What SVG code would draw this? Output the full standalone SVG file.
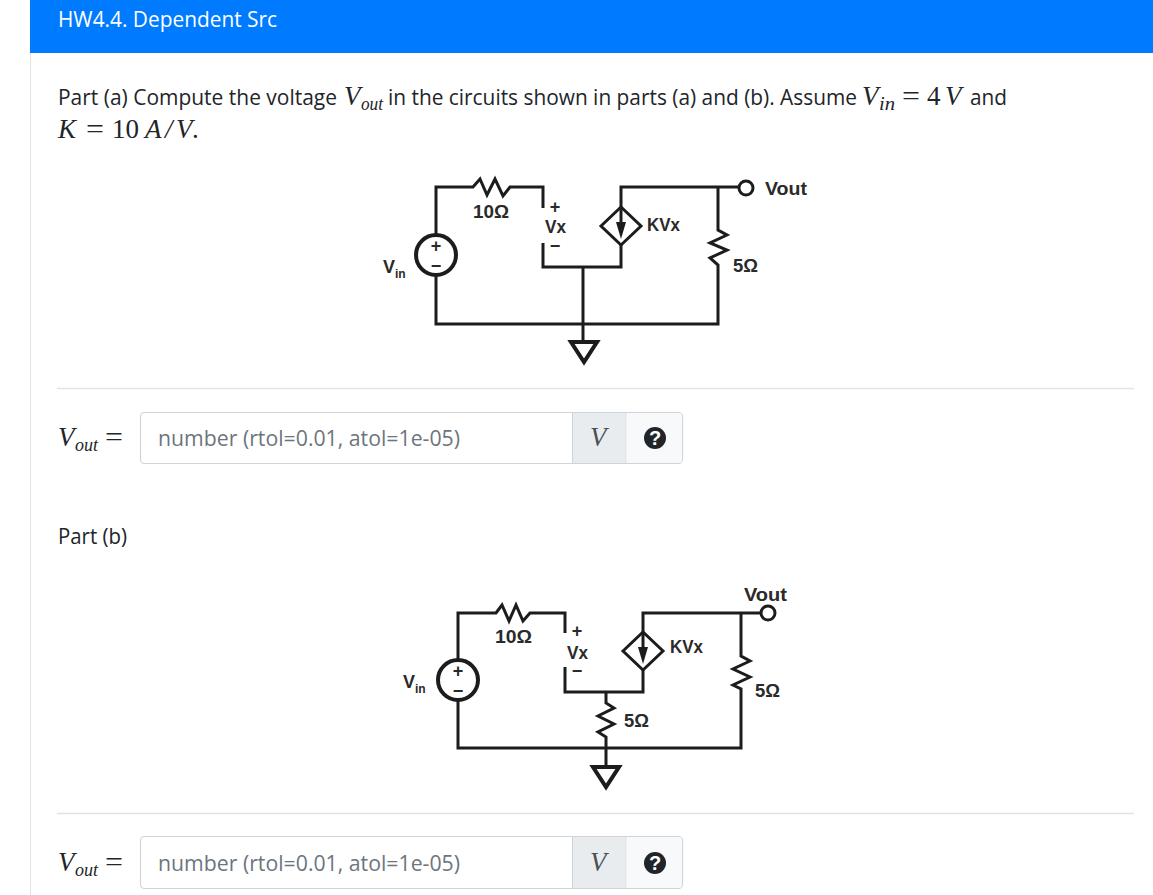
<svg xmlns="http://www.w3.org/2000/svg" width="1153" height="895" viewBox="0 0 1153 895">
<style>
.ui{font-family:"Open Sans","Noto Sans","Liberation Sans",sans-serif;font-size:21px;fill:#212529}
.ph{font-family:"Open Sans","Noto Sans","Liberation Sans",sans-serif;font-size:21px;fill:#6c757d}
.m{font-family:"Liberation Serif","DejaVu Serif",serif;font-size:27px;fill:#212529}
.mi{font-style:italic}
.sub{font-size:19px}
.w{fill:none;stroke:#1c1c1c;stroke-width:3;stroke-linejoin:miter}
.t{stroke-width:4}
.c{font-family:"Liberation Sans","DejaVu Sans",sans-serif;font-weight:bold;font-size:18px;fill:#2a2a2a}
.cs{font-size:12px}
.box{fill:#fff;stroke:#ced4da;stroke-width:1.2}
.hr{stroke:#e2e2e2;stroke-width:1.3}
.q{font-family:"Liberation Sans",sans-serif;font-weight:bold;font-size:20px;fill:#fff;text-anchor:middle}
</style>
<defs>
<g id="qm"><circle r="11" fill="#212529"/><text class="q" y="7">?</text></g>
</defs>
<rect width="1153" height="895" fill="#fff"/>
<line x1="30.5" y1="53" x2="30.5" y2="895" stroke="#e3e3e3"/>
<rect x="30" y="0" width="1123" height="53" fill="#007bff"/>
<text x="58" y="27" textLength="219" lengthAdjust="spacingAndGlyphs" class="ui" style="fill:#fff">HW4.4. Dependent Src</text>

<g id="question">
<text x="58" y="105" textLength="279" lengthAdjust="spacingAndGlyphs" class="ui">Part (a) Compute the voltage</text>
<text x="344" y="105" class="m mi">V</text><text x="361" y="110" class="m mi sub" textLength="22" lengthAdjust="spacingAndGlyphs">out</text>
<text x="388" y="105" textLength="469" lengthAdjust="spacingAndGlyphs" class="ui">in the circuits shown in parts (a) and (b). Assume</text>
<text x="862" y="105" class="m mi">V</text><text x="879" y="110" class="m mi sub" textLength="16" lengthAdjust="spacingAndGlyphs">in</text>
<text x="902" y="105" class="m" textLength="18" lengthAdjust="spacingAndGlyphs">=</text><text x="927" y="105" class="m">4</text><text x="945" y="105" class="m mi">V</text>
<text x="970" y="105" textLength="37" lengthAdjust="spacingAndGlyphs" class="ui">and</text>
<text x="58" y="138" class="m mi">K</text><text x="86" y="138" class="m" textLength="18" lengthAdjust="spacingAndGlyphs">=</text><text x="112" y="138" class="m">10</text>
<text x="145" y="138" class="m mi">A</text><text x="165" y="138" class="m mi">/</text><text x="176" y="138" class="m mi">V</text><text x="192" y="138" class="m">.</text>
</g>

<g id="circuit-a">
<path class="w" d="M436 235V187H473l7-8 7 16 8-16 8 17 7-9H543V208"/>
<path class="w" d="M543 243V267H621V245"/>
<path class="w" d="M621 207V187H739"/>
<path class="w" d="M718 187V230l9 5-17 8 17 7-17 8 8 7V324H436V275"/>
<path class="w" d="M583 267V342"/>
<circle class="w t" cx="436" cy="255" r="20"/>
<path class="w" d="M601 226l20-19 20 19-20 19z"/>
<path d="M621 209V228" stroke="#1c1c1c" stroke-width="3" fill="none"/><path d="M616 222h10l-5 17z" fill="#1c1c1c"/>
<path class="w t" d="M571 342H597L584 362Z"/>
<circle class="w" cx="746" cy="188" r="7"/>
<text class="c" x="473" y="218" textLength="36" lengthAdjust="spacingAndGlyphs">10Ω</text>
<text class="c" x="555" y="213" text-anchor="middle">+</text>
<text class="c" x="545" y="233" textLength="21" lengthAdjust="spacingAndGlyphs">Vx</text>
<text class="c" x="555" y="252" text-anchor="middle">−</text>
<text class="c" x="647" y="231" textLength="33" lengthAdjust="spacingAndGlyphs">KVx</text>
<text class="c" x="733" y="272" textLength="25" lengthAdjust="spacingAndGlyphs">5Ω</text>
<text class="c" x="765" y="195" textLength="42" lengthAdjust="spacingAndGlyphs">Vout</text>
<text class="c" x="383" y="273" textLength="12" lengthAdjust="spacingAndGlyphs">V</text><text class="c cs" x="395" y="278">in</text>
<text class="c" x="436" y="252" text-anchor="middle">+</text>
<text class="c" x="436" y="272" text-anchor="middle">−</text>
</g>

<line class="hr" x1="57" y1="388.5" x2="1134" y2="388.5"/>

<g id="input-a">
<text x="58" y="446" class="m mi">V</text><text x="75" y="451" class="m mi sub" textLength="23" lengthAdjust="spacingAndGlyphs">out</text><text x="105" y="446" class="m" textLength="18" lengthAdjust="spacingAndGlyphs">=</text>
<rect class="box" x="140.5" y="412.5" width="542" height="51" rx="4"/>
<rect x="572" y="413" width="54" height="50" fill="#e9ecef"/>
<path d="M626 413H679a3 3 0 0 1 3 3V460a3 3 0 0 1-3 3H626Z" fill="#f8f9fa"/>
<line x1="572.5" y1="413" x2="572.5" y2="463" stroke="#ced4da"/>
<line x1="626" y1="413" x2="626" y2="463" stroke="#ced4da" stroke-opacity=".5"/>
<text x="158" y="446" class="ph" textLength="302" lengthAdjust="spacingAndGlyphs">number (rtol=0.01, atol=1e-05)</text>
<text x="590" y="446" class="m mi" style="fill:#495057">V</text>
<use href="#qm" x="655" y="438"/>
</g>

<text x="58" y="544" class="ui" textLength="69" lengthAdjust="spacingAndGlyphs">Part (b)</text>

<g id="circuit-b">
<path class="w" d="M458 660V613H496l6-8 7 16 7-16 7 16 7-8H565V633"/>
<path class="w" d="M565 667V692H643V670"/>
<path class="w" d="M643 632V613H762"/>
<path class="w" d="M741 613V656l9 5-17 8 17 8-17 8 8 4V748H458V700"/>
<path class="w" d="M606 692V703l8 5-16 8 16 8-16 8 8 5V767"/>
<circle class="w t" cx="458" cy="680" r="20"/>
<path class="w" d="M623 651l20-19 20 19-20 19z"/>
<path d="M643 634V653" stroke="#1c1c1c" stroke-width="3" fill="none"/><path d="M638 647h10l-5 17z" fill="#1c1c1c"/>
<path class="w t" d="M593 767H619L606 787Z"/>
<circle class="w" cx="768" cy="613" r="7"/>
<text class="c" x="495" y="643" textLength="37" lengthAdjust="spacingAndGlyphs">10Ω</text>
<text class="c" x="577" y="637" text-anchor="middle">+</text>
<text class="c" x="567" y="659" textLength="21" lengthAdjust="spacingAndGlyphs">Vx</text>
<text class="c" x="577" y="677" text-anchor="middle">−</text>
<text class="c" x="670" y="653" textLength="33" lengthAdjust="spacingAndGlyphs">KVx</text>
<text class="c" x="755" y="697" textLength="25" lengthAdjust="spacingAndGlyphs">5Ω</text>
<text class="c" x="624" y="727" textLength="25" lengthAdjust="spacingAndGlyphs">5Ω</text>
<text class="c" x="744" y="601" textLength="43" lengthAdjust="spacingAndGlyphs">Vout</text>
<text class="c" x="403" y="688" textLength="12" lengthAdjust="spacingAndGlyphs">V</text><text class="c cs" x="415" y="693">in</text>
<text class="c" x="458" y="677" text-anchor="middle">+</text>
<text class="c" x="458" y="697" text-anchor="middle">−</text>
</g>

<line class="hr" x1="57" y1="813.5" x2="1134" y2="813.5"/>

<g id="input-b">
<text x="58" y="871" class="m mi">V</text><text x="75" y="876" class="m mi sub" textLength="23" lengthAdjust="spacingAndGlyphs">out</text><text x="105" y="871" class="m" textLength="18" lengthAdjust="spacingAndGlyphs">=</text>
<rect class="box" x="140.5" y="836.5" width="542" height="52" rx="4"/>
<rect x="572" y="837" width="54" height="51" fill="#e9ecef"/>
<path d="M626 837H679a3 3 0 0 1 3 3V885a3 3 0 0 1-3 3H626Z" fill="#f8f9fa"/>
<line x1="572.5" y1="837" x2="572.5" y2="888" stroke="#ced4da"/>
<line x1="626" y1="837" x2="626" y2="888" stroke="#ced4da" stroke-opacity=".5"/>
<text x="158" y="871" class="ph" textLength="302" lengthAdjust="spacingAndGlyphs">number (rtol=0.01, atol=1e-05)</text>
<text x="590" y="871" class="m mi" style="fill:#495057">V</text>
<use href="#qm" x="655" y="863"/>
</g>
</svg>
